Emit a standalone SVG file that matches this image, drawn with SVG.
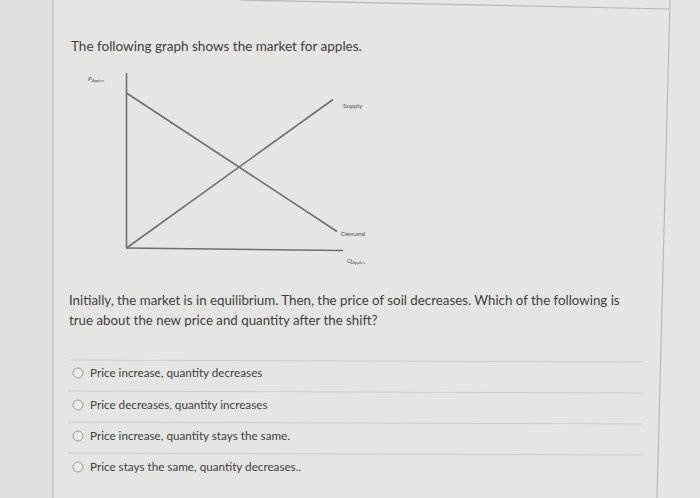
<svg xmlns="http://www.w3.org/2000/svg" width="700" height="498" viewBox="0 0 700 498">
<style>
.t{font-family:Lato,"Open Sans","Liberation Sans",sans-serif;fill:#404040}
.q{font-size:13.5px}
.p{font-size:13.3px}
.o{font-size:11.7px}
.s{font-size:6.5px;fill:#555}
.ax{stroke:#6e6e6e;stroke-width:1.6;fill:none}
.sep{stroke:#cdcdcb;stroke-width:1}
.rb{fill:#ececea;stroke:#9a9a9a;stroke-width:1}
.fr{stroke:#b8b8b6;stroke-width:1.2;fill:none}
</style>
<rect width="700" height="498" fill="#e5e5e3"/>
<rect width="53" height="498" fill="#dededc"/>
<g id="frame">
<line class="fr" x1="53" y1="0" x2="53" y2="498"/>
<line class="fr" x1="670" y1="0" x2="657" y2="498"/>
<line class="fr" x1="240" y1="0" x2="670" y2="9"/>
</g>
<text class="t q" x="71" y="51">The following graph shows the market for apples.</text>
<g id="graph">
<line class="ax" x1="126.5" y1="73" x2="126.5" y2="248"/>
<line class="ax" x1="126" y1="248" x2="343" y2="250.5"/>
<line class="ax" x1="126.5" y1="93" x2="337" y2="231.5"/>
<line class="ax" x1="126.5" y1="248" x2="333" y2="99.5"/>
<text class="t s" x="88" y="81" font-style="italic">P<tspan font-size="4.2" dy="1" font-style="normal">Apples</tspan></text>
<text class="t s" x="343" y="108">Supply</text>
<text class="t s" x="341" y="236">Demand</text>
<text class="t s" x="347" y="263">Q<tspan font-size="4.2" dy="1">Apples</tspan></text>
</g>
<text class="t p" x="69" y="305">Initially, the market is in equilibrium. Then, the price of soil decreases. Which of the following is</text>
<text class="t p" x="69" y="325">true about the new price and quantity after the shift?</text>
<g id="options">
<line class="sep" x1="68" y1="360" x2="643" y2="362"/>
<line class="sep" x1="68" y1="391" x2="643" y2="393"/>
<line class="sep" x1="68" y1="422" x2="643" y2="424"/>
<line class="sep" x1="68" y1="453" x2="643" y2="455"/>
<g id="opt1"><circle class="rb" cx="78" cy="373" r="5"/><text class="t o" x="90" y="377">Price increase, quantity decreases</text></g>
<g id="opt2"><circle class="rb" cx="78" cy="405" r="5"/><text class="t o" x="90" y="409">Price decreases, quantity increases</text></g>
<g id="opt3"><circle class="rb" cx="78" cy="436" r="5"/><text class="t o" x="90" y="440">Price increase, quantity stays the same.</text></g>
<g id="opt4"><circle class="rb" cx="78" cy="467" r="5"/><text class="t o" x="90" y="471">Price stays the same, quantity decreases..</text></g>
</g>
</svg>
